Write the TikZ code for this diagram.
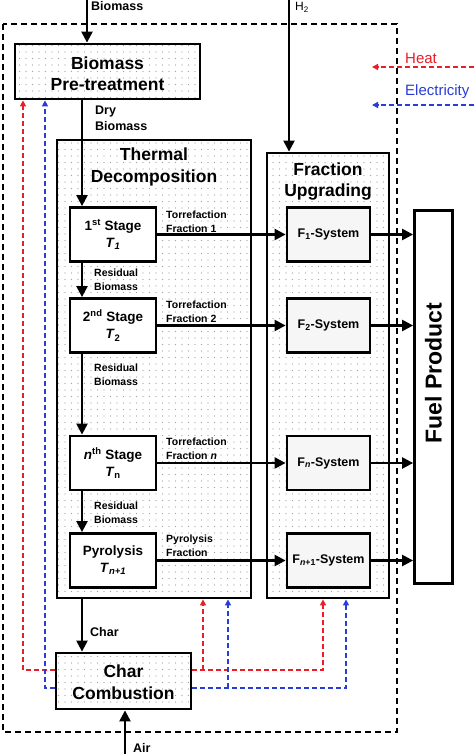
\documentclass[tikz,border=0pt]{standalone}
\usepackage{fontspec}
\setmainfont{Liberation Sans}
\usetikzlibrary{arrows.meta,patterns.meta}

\tikzdeclarepattern{
  name=sparsedots,
  type=uncolored,
  bounding box={(-3pt,-3pt) and (3pt,3pt)},
  tile size={(6.5pt,6.5pt)},
  code={\fill (0,0) circle (0.6pt);}
}

\definecolor{heatred}{RGB}{232,30,40}
\definecolor{elecblue}{RGB}{40,60,215}

\tikzset{
  unitbox/.style={draw, line width=2.8pt, preaction={fill=white}, pattern=sparsedots, pattern color=gray!75},
  stagebox/.style={draw, line width=2.8pt, fill=white, minimum width=86pt, minimum height=54pt, inner sep=0pt, align=center, font=\bfseries\fontsize{13.5}{17}\selectfont},
  sysbox/.style={draw, line width=2.8pt, fill=gray!7, minimum width=83pt, minimum height=54pt, inner sep=0pt, font=\bfseries\fontsize{12.5}{15}\selectfont},
  title/.style={align=center, inner sep=0pt, font=\bfseries\fontsize{17.5}{21.5}\selectfont},
  lbl/.style={anchor=west, align=left, inner sep=0pt, font=\bfseries\fontsize{10.5}{14}\selectfont},
  biglbl/.style={anchor=west, align=left, inner sep=0pt, font=\bfseries\fontsize{12.5}{16}\selectfont},
  flow/.style={line width=2.3pt, -{Triangle[length=11pt,width=11pt]}},
  heat/.style={heatred, line width=1.7pt, dash pattern=on 5pt off 3pt, -{Triangle[length=6pt,width=6pt]}},
  elec/.style={elecblue, line width=1.7pt, dash pattern=on 5pt off 3pt, -{Triangle[length=6pt,width=6pt]}}
}

\begin{document}
\begin{tikzpicture}[x=1pt,y=-1pt]
  \useasboundingbox (0,0) rectangle (474,754);

  \draw[line width=2pt, dash pattern=on 6pt off 4pt] (3,24) rectangle (397,732);

  \node[unitbox, minimum width=185pt, minimum height=55pt] (pre) at (107.5,71.5) {};
  \node[title] (pretext) at (107.5,73.5) {Biomass\\Pre-treatment};

  \node[unitbox, minimum width=194pt, minimum height=458pt] (td) at (154,369) {};
  \node[title] (tdtext) at (154,167) {Thermal\\Decomposition};

  \node[unitbox, minimum width=122pt, minimum height=445pt] (fu) at (328,375.5) {};
  \node[title] (futext) at (328,181.5) {Fraction\\Upgrading};

  \node[unitbox, minimum width=135pt, minimum height=56pt] (char) at (123.5,681) {};
  \node[title] (chartext) at (123.5,682) {Char\\Combustion};

  \node[stagebox] (s1) at (113,234.5) {1\textsuperscript{st} Stage\\\textit{T}\textsubscript{\textit{1}}};
  \node[stagebox] (s2) at (113,325.5) {2\textsuperscript{nd} Stage\\\textit{T}\textsubscript{2}};
  \node[stagebox] (sn) at (113,463) {\textit{n}\textsuperscript{th} Stage\\\textit{T}\textsubscript{n}};
  \node[stagebox] (py) at (113,560.5) {Pyrolysis\\\textit{T}\textsubscript{\textit{n+1}}};

  \node[sysbox] (f1) at (328.5,234.5) {F\textsubscript{1}-System};
  \node[sysbox] (f2) at (328.5,325.5) {F\textsubscript{2}-System};
  \node[sysbox] (fn) at (328.5,463) {F\textsubscript{\textit{n}}-System};
  \node[sysbox] (fm) at (328.5,560.5) {F\textsubscript{\textit{n}+1}-System};

  \node[draw, line width=2.8pt, fill=white, minimum width=38pt, minimum height=373pt] (fuel) at (433.5,397) {};
  \node[rotate=90, inner sep=0pt, font=\bfseries\fontsize{23}{25}\selectfont] (fueltext) at (433.5,373) {Fuel Product};

  \coordinate (bioin) at (87,0);
  \coordinate (h2in) at (289,0);
  \coordinate (airin) at (125,754);
  \coordinate (col) at (82,0);

  \node[biglbl] (biolbl) at (91,6) {Biomass};
  \node[anchor=west, inner sep=0pt, font=\fontsize{12}{14}\selectfont] (h2lbl) at (295,7) {H\textsubscript{2}};
  \node[biglbl] (drylbl) at (95,118) {Dry\\Biomass};
  \node[lbl] (res1) at (94,280) {Residual\\Biomass};
  \node[lbl] (res2) at (94,375) {Residual\\Biomass};
  \node[lbl] (res3) at (94,512.5) {Residual\\Biomass};
  \node[lbl] (tor1) at (166,221.5) {Torrefaction\\Fraction 1};
  \node[lbl] (tor2) at (166,311.5) {Torrefaction\\Fraction 2};
  \node[lbl] (torn) at (166,449) {Torrefaction\\Fraction \textit{n}};
  \node[lbl] (pyf) at (166,545.5) {Pyrolysis\\Fraction};
  \node[biglbl] (charlbl) at (90,632) {Char};
  \node[biglbl] (airlbl) at (133,748) {Air};

  \draw[flow] (bioin) -- (bioin |- pre.north);
  \draw[flow] (h2in) -- (h2in |- fu.north);
  \draw[flow] (col |- pre.south) -- (col |- s1.north);
  \draw[flow] (col |- s1.south) -- (col |- s2.north);
  \draw[flow] (col |- s2.south) -- (col |- sn.north);
  \draw[flow] (col |- sn.south) -- (col |- py.north);
  \draw[flow] (col |- td.south) -- (col |- char.north);
  \draw[flow] (airin) -- (airin |- char.south);

  \draw[flow] (s1.east) -- (f1.west);
  \draw[flow] (s2.east) -- (f2.west);
  \draw[flow] (sn.east) -- (fn.west);
  \draw[flow] (py.east) -- (fm.west);
  \draw[flow] (f1.east) -- (f1.east -| fuel.west);
  \draw[flow] (f2.east) -- (f2.east -| fuel.west);
  \draw[flow] (fn.east) -- (fn.east -| fuel.west);
  \draw[flow] (fm.east) -- (fm.east -| fuel.west);

  \coordinate (heatin) at (474,67);
  \coordinate (elecin) at (474,105);
  \draw[heat] (heatin) -- (372,67);
  \draw[elec] (elecin) -- (372,105);
  \node[anchor=west, inner sep=0pt, text=heatred, font=\fontsize{15}{17}\selectfont] (heatlbl) at (405,58) {Heat};
  \node[anchor=west, inner sep=0pt, text=elecblue, font=\fontsize{15}{17}\selectfont] (eleclbl) at (405,92) {Electricity};

  \coordinate (hl) at ([yshift=11pt]char.west);
  \coordinate (el) at ([yshift=-7pt]char.west);
  \coordinate (hr) at ([yshift=11pt]char.east);
  \coordinate (er) at ([yshift=-7pt]char.east);
  \coordinate (hcol) at (23,0);
  \coordinate (ecol) at (45,0);
  \coordinate (hcolA) at (203,0);
  \coordinate (ecolA) at (228,0);
  \coordinate (hcolB) at (323,0);
  \coordinate (ecolB) at (346,0);

  \draw[heat] (hl) -| (hcol |- pre.south);
  \draw[elec] (el) -| (ecol |- pre.south);
  \draw[heat] (hr) -| (hcolB |- fu.south);
  \draw[elec] (er) -| (ecolB |- fu.south);
  \draw[heat] (hcolA |- hr) -- (hcolA |- td.south);
  \draw[elec] (ecolA |- er) -- (ecolA |- td.south);
\end{tikzpicture}
\end{document}
